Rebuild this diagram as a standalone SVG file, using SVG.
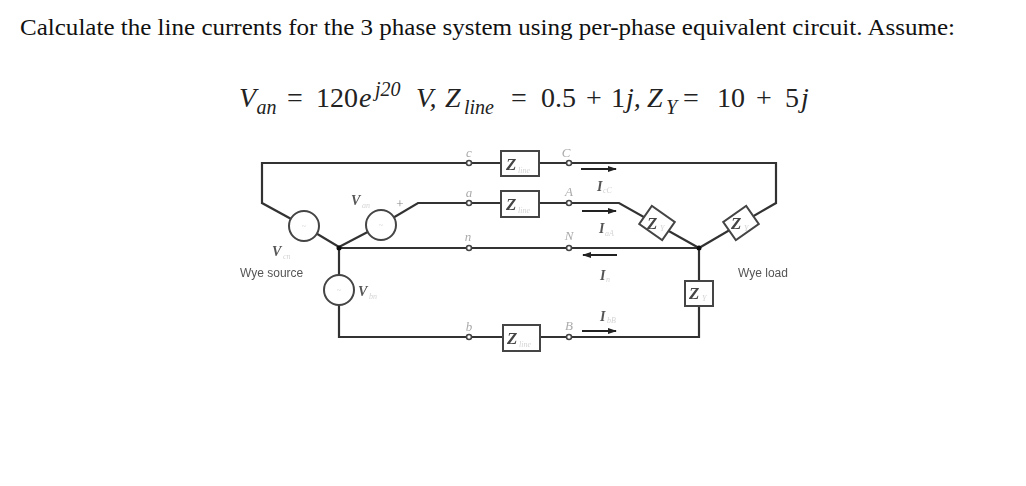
<svg xmlns="http://www.w3.org/2000/svg" width="1026" height="486" viewBox="0 0 1026 486">
<style>
.t{font-family:"Liberation Serif",serif;fill:#111}
.e{font-family:"Liberation Serif",serif;fill:#222;font-size:28px}
.i{font-style:italic}
.s{font-size:20px}
.w{fill:none;stroke:#333;stroke-width:2.2;stroke-linejoin:miter}
.a{fill:none;stroke:#222;stroke-width:2.2;marker-end:url(#ah)}
.src{fill:#fff;stroke:#444;stroke-width:2}
.box{fill:#fff;stroke:#444;stroke-width:2}
.term{fill:#fff;stroke:#444;stroke-width:1.6}
.z{font-family:"Liberation Serif",serif;font-style:italic;font-weight:bold;font-size:17px;fill:#444}
.sub{font-family:"Liberation Serif",serif;font-style:italic;font-size:8px;fill:#d4d4d4}
.l{font-family:"Liberation Serif",serif;font-style:italic;font-size:13px;fill:#aaa}
.cur{font-family:"Liberation Serif",serif;font-style:italic;font-weight:bold;font-size:14px;fill:#555}
.cap{font-family:"Liberation Sans",sans-serif;font-size:12px;fill:#555}
</style>
<defs>
<marker id="ah" markerWidth="9" markerHeight="6" refX="8" refY="3" orient="auto" markerUnits="userSpaceOnUse"><path d="M0 0L9 3L0 6Z" fill="#222"/></marker>
<filter id="soft" x="-2%" y="-2%" width="104%" height="104%"><feGaussianBlur stdDeviation="0.35"/></filter>
</defs>
<rect width="1026" height="486" fill="#fff"/>
<text id="title" class="t" x="20" y="35" font-size="23.5" textLength="935" lengthAdjust="spacingAndGlyphs">Calculate the line currents for the 3 phase system using per-phase equivalent circuit. Assume:</text>
<g id="equation">
<text class="e i" x="239" y="107">V</text><text class="e i s" x="256.5" y="114">an</text>
<text class="e" x="287" y="107">=</text>
<text class="e" x="316" y="107">120</text><text class="e i" x="359" y="107">e</text>
<text class="e i s" x="375" y="96">j20</text>
<text class="e i" x="416" y="107">V,</text><text class="e i" x="445" y="107">Z</text>
<text class="e i s" x="464" y="114">line</text>
<text class="e" x="511" y="107">=</text>
<text class="e" x="541" y="107">0.5</text><text class="e" x="586" y="107">+</text><text class="e" x="611" y="107">1</text><text class="e i" x="626" y="107">j,</text>
<text class="e i" x="647" y="107">Z</text><text class="e i s" x="666" y="114">Y</text>
<text class="e" x="683" y="107">=</text>
<text class="e" x="717" y="107">10</text><text class="e" x="756" y="107">+</text><text class="e" x="785" y="107">5</text><text class="e i" x="801" y="107">j</text>
</g>
<g id="circuit" filter="url(#soft)">
<g id="connectors">
<path class="w" d="M501 163H262V203L304 226"/>
<path class="w" d="M304 226L339 247L381 225L418 203H501"/>
<path class="w" d="M339 248H699"/>
<path class="w" d="M339 248V337H503"/>
<path class="w" d="M539 163H776V203L699 248"/>
<path class="w" d="M539 203H619L699 248"/>
<path class="w" d="M540 337H699V248"/>
<circle cx="339" cy="248" r="2.5" fill="#111"/>
<circle cx="699" cy="248" r="2.5" fill="#111"/>
<path class="a" d="M581 169H616"/>
<path class="a" d="M582 211H616"/>
<path class="a" d="M617 255H583"/>
<path class="a" d="M582 331H616"/>
</g>
<g id="src-c"><circle class="src" cx="304" cy="226" r="15"/><text class="sub" x="304" y="229" text-anchor="middle">~</text></g>
<g id="src-a"><circle class="src" cx="381" cy="225" r="15"/><text class="sub" x="381" y="228" text-anchor="middle">~</text></g>
<g id="src-b"><circle class="src" cx="339" cy="290" r="15"/><text class="sub" x="339" y="293" text-anchor="middle">~</text></g>
<g id="z-line-c"><rect class="box" x="501" y="151" width="38" height="25"/><text class="z" x="506" y="170">Z</text><text class="sub" x="518" y="173">line</text></g>
<g id="z-line-a"><rect class="box" x="501" y="191" width="38" height="26"/><text class="z" x="506" y="210">Z</text><text class="sub" x="518" y="213">line</text></g>
<g id="z-line-b"><rect class="box" x="503" y="325" width="37" height="26"/><text class="z" x="507" y="344">Z</text><text class="sub" x="519" y="347">line</text></g>
<g id="z-y-a"><rect class="box" x="643" y="212" width="28" height="22" transform="rotate(35 657 223)"/><text class="z" x="647" y="229">Z</text><text class="sub" x="660" y="231">Y</text></g>
<g id="z-y-c"><rect class="box" x="727" y="212" width="28" height="22" transform="rotate(-35 741 223)"/><text class="z" x="731" y="229">Z</text><text class="sub" x="744" y="231">Y</text></g>
<g id="z-y-b"><rect class="box" x="685" y="281" width="28" height="25"/><text class="z" x="689" y="299">Z</text><text class="sub" x="702" y="301">Y</text></g>
<g id="terminals">
<circle class="term" cx="469" cy="163" r="2.5"/><circle class="term" cx="469" cy="203" r="2.5"/><circle class="term" cx="469" cy="248" r="2.5"/><circle class="term" cx="469" cy="337" r="2.5"/>
<circle class="term" cx="569" cy="163" r="2.5"/><circle class="term" cx="569" cy="203" r="2.5"/><circle class="term" cx="569" cy="248" r="2.5"/><circle class="term" cx="569" cy="337" r="2.5"/>
</g>
<g id="labels">
<text class="l" x="469" y="157" text-anchor="middle">c</text><text class="l" x="469" y="197" text-anchor="middle">a</text><text class="l" x="468" y="241" text-anchor="middle">n</text><text class="l" x="469" y="331" text-anchor="middle">b</text>
<text class="l" x="566" y="157" text-anchor="middle">C</text><text class="l" x="569" y="196" text-anchor="middle">A</text><text class="l" x="569" y="240" text-anchor="middle">N</text><text class="l" x="569" y="330" text-anchor="middle">B</text>
<text class="cur" x="597" y="191">I</text><text class="sub" x="603" y="193">cC</text>
<text class="cur" x="599" y="233">I</text><text class="sub" x="605" y="236">aA</text>
<text class="cur" x="600" y="280">I</text><text class="sub" x="606" y="282">n</text>
<text class="cur" x="600" y="321">I</text><text class="sub" x="607" y="323">bB</text>
<text class="cur" x="351" y="205">V</text><text class="sub" x="362" y="208">an</text>
<text class="cur" x="272" y="256">V</text><text class="sub" x="283" y="259">cn</text>
<text class="cur" x="358" y="296">V</text><text class="sub" x="369" y="299">bn</text>
<text class="l" x="400" y="208" text-anchor="middle" style="fill:#888;font-style:normal">+</text>
<text class="cap" x="240" y="277">Wye source</text>
<text class="cap" x="738" y="277">Wye load</text>
</g>
</g>
</svg>
